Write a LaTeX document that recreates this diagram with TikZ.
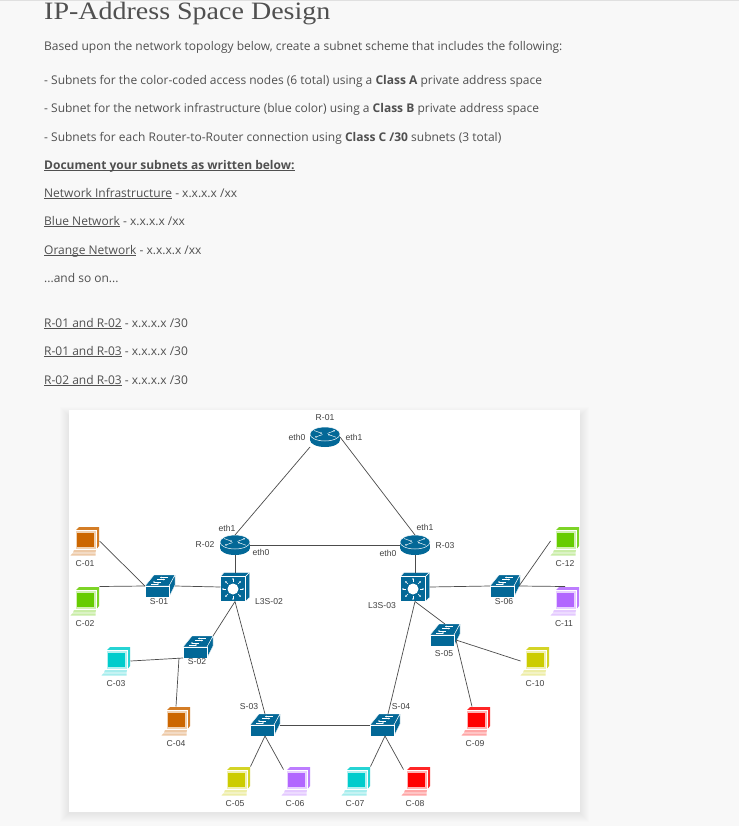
\documentclass[tikz,border=0pt]{standalone}
\usepackage{fontspec}
\setmainfont{Open Sans}
\newfontfamily\titlefont[FakeStretch=1.12]{Liberation Serif}
\newfontfamily\lblfont{Liberation Sans}
\usetikzlibrary{arrows.meta}
\definecolor{pagebg}{HTML}{F8F8F8}
\definecolor{txt}{HTML}{505050}
\definecolor{net}{HTML}{036897}
\definecolor{cOrange}{HTML}{CC6600}
\definecolor{cGreen}{HTML}{66CC00}
\definecolor{cCyan}{HTML}{00CCCC}
\definecolor{cYellow}{HTML}{CCCC00}
\definecolor{cPurple}{HTML}{B266FF}
\definecolor{cRed}{HTML}{FF0000}
\newcommand\ulx[1]{\leavevmode\setbox0\hbox{#1}\rlap{\raisebox{-1.6pt}{\rule{\wd0}{0.65pt}}}\box0\relax}
\tikzset{
  x=1pt,y=-1pt,
  body/.style={anchor=base west,inner sep=0pt,text=txt,font=\fontsize{12}{14}\selectfont},
  lbl/.style={inner sep=0pt,text=black!75,font=\lblfont\fontsize{8.6}{9}\selectfont},
  link/.style={draw=black!70,line width=0.7pt},
  routerbox/.style={inner sep=0pt,outer sep=0pt,minimum width=30pt,minimum height=20pt},
  switchbox/.style={inner sep=0pt,outer sep=0pt,minimum width=30pt,minimum height=22pt},
  lthreebox/.style={inner sep=0pt,outer sep=0pt,minimum width=29pt,minimum height=29pt},
  pcbox/.style={inner sep=0pt,outer sep=0pt,minimum width=29pt,minimum height=29pt},
  wa/.style={draw=white,line width=0.45pt,-{Stealth[length=1.6pt,width=1.8pt]}},
  pics/routericon/.style={code={
    \fill[net] (0,3) ellipse[x radius=15,y radius=7];
    \fill[net] (-15,-3) rectangle (15,3);
    \fill[net,draw=white,line width=0.5pt] (0,-3) ellipse[x radius=15,y radius=7];
    \draw[wa] (-11,-6.5) -- (-3,-3.6);
    \draw[wa] (-2.5,-2.4) -- (-10,0.2);
    \draw[wa] (11,0.2) -- (3,-2.6);
    \draw[wa] (2.5,-3.6) -- (10,-6.5);
  }},
  pics/switchicon/.style={code={
    \fill[net,draw=white,line width=0.4pt] (-15,0) -- (-6,-11) -- (15,-11) -- (9,0) -- cycle;
    \fill[net,draw=white,line width=0.4pt] (9,0) -- (15,-11) -- (15,-1) -- (9,11) -- cycle;
    \fill[net,draw=white,line width=0.4pt] (-15,0) rectangle (9,11);
    \draw[wa] (-9,-2) -- (-1,-2);
    \draw[wa] (1,-4) -- (-7,-4);
    \draw[wa] (-3,-6.5) -- (5,-6.5);
    \draw[wa] (8,-8.5) -- (0,-8.5);
  }},
  pics/lthreeicon/.style={code={
    \fill[net,draw=white,line width=0.4pt] (-14.5,-10.5) -- (-11,-14.5) -- (14.5,-14.5) -- (10.5,-10.5) -- cycle;
    \fill[net,draw=white,line width=0.4pt] (10.5,-10.5) -- (14.5,-14.5) -- (14.5,10.5) -- (10.5,14.5) -- cycle;
    \fill[net,draw=white,line width=0.4pt] (-14.5,-10.5) rectangle (10.5,14.5);
    \fill[white] (-2,2) circle[radius=5.5];
    \foreach \a in {0,45,...,315}{
      \draw[wa] ({-2+7*cos(\a)},{2+7*sin(\a)}) -- ({-2+11*cos(\a)},{2+11*sin(\a)});
    }
  }},
  pics/pcicon/.style={code={
    \fill[#1!85!white] (-10,-10) -- (-6,-14) -- (14,-14) -- (14,5) -- (11.5,8) -- (-10,8) -- cycle;
    \fill[#1!30!white,draw=white,line width=0.5pt] (-10,-10.5) rectangle (11.5,8);
    \fill[#1] (-8,-8.5) rectangle (9,6);
    \fill[#1!35!white] (-11,9) -- (11,9) -- (10.5,11.5) -- (-12,11.5) -- cycle;
    \fill[#1!35!white] (-12.5,12.3) -- (10.5,12.3) -- (10.5,14.5) -- (-14.5,14.5) -- cycle;
  }},
}
\begin{document}
\begin{tikzpicture}
\useasboundingbox (0,0) rectangle (739,826);
\fill[pagebg] (0,0) rectangle (739,826);
\fill[black!12] (0,0) rectangle (739,1.5);
% text
\node[anchor=base west,inner sep=0pt,text=txt,font=\titlefont\fontsize{25}{28}\selectfont] (title) at (44,20) {IP-Address Space Design};
\node[body] (t1) at (44,50.5) {Based upon the network topology below, create a subnet scheme that includes the following:};
\node[body] (t2) at (44,84.5) {- Subnets for the color-coded access nodes (6 total) using a \textbf{Class A} private address space};
\node[body] (t3) at (44,112.5) {- Subnet for the network infrastructure (blue color) using a \textbf{Class B} private address space};
\node[body] (t4) at (44,141.5) {- Subnets for each Router-to-Router connection using \textbf{Class C /30} subnets (3 total)};
\node[body] (t5) at (44,169.5) {\ulx{\textbf{Document your subnets as written below:}}};
\node[body] (t6) at (44,197.5) {\ulx{Network Infrastructure} - x.x.x.x /xx};
\node[body] (t7) at (44,225.5) {\ulx{Blue Network} - x.x.x.x /xx};
\node[body] (t8) at (44,254.5) {\ulx{Orange Network} - x.x.x.x /xx};
\node[body] (t9) at (44,282.5) {...and so on...};
\node[body] (t10) at (44,327.5) {\ulx{R-01 and R-02} - x.x.x.x /30};
\node[body] (t11) at (44,355.5) {\ulx{R-01 and R-03} - x.x.x.x /30};
\node[body] (t12) at (44,384.5) {\ulx{R-02 and R-03} - x.x.x.x /30};
% panel with soft shadow
\foreach \s in {9,8,...,1}{
  \fill[black,opacity=0.009] (69-\s,410+6-\s) rectangle (580+\s,812+\s+1);
}
\fill[white] (69,410) rectangle (580,812);
% device nodes
\node[routerbox] (r1) at (325,437) {}; \pic at (r1) {routericon};
\node[routerbox] (r2) at (235,545) {}; \pic at (r2) {routericon};
\node[routerbox] (r3) at (415,545) {}; \pic at (r3) {routericon};
\node[lthreebox] (l2) at (235,587) {}; \pic at (l2) {lthreeicon};
\node[lthreebox] (l3) at (415,587) {}; \pic at (l3) {lthreeicon};
\node[switchbox] (s1) at (160,586) {}; \pic at (s1) {switchicon};
\node[switchbox] (s2) at (198,647) {}; \pic at (s2) {switchicon};
\node[switchbox] (s3) at (265,725) {}; \pic at (s3) {switchicon};
\node[switchbox] (s4) at (385,725) {}; \pic at (s4) {switchicon};
\node[switchbox] (s5) at (445,635) {}; \pic at (s5) {switchicon};
\node[switchbox] (s6) at (505,586) {}; \pic at (s6) {switchicon};
\node[pcbox] (c1) at (85,541) {}; \pic at (c1) {pcicon=cOrange};
\node[pcbox] (c2) at (85,601) {}; \pic at (c2) {pcicon=cGreen};
\node[pcbox] (c3) at (116,661) {}; \pic at (c3) {pcicon=cCyan};
\node[pcbox] (c4) at (176,721) {}; \pic at (c4) {pcicon=cOrange};
\node[pcbox] (c5) at (236,781) {}; \pic at (c5) {pcicon=cYellow};
\node[pcbox] (c6) at (296,781) {}; \pic at (c6) {pcicon=cPurple};
\node[pcbox] (c7) at (356,781) {}; \pic at (c7) {pcicon=cCyan};
\node[pcbox] (c8) at (416,781) {}; \pic at (c8) {pcicon=cRed};
\node[pcbox] (c9) at (476,721) {}; \pic at (c9) {pcicon=cRed};
\node[pcbox] (c10) at (535,661) {}; \pic at (c10) {pcicon=cYellow};
\node[pcbox] (c11) at (565,601) {}; \pic at (c11) {pcicon=cPurple};
\node[pcbox] (c12) at (565,541) {}; \pic at (c12) {pcicon=cGreen};
% connectors
\draw[link] (r1.south west) -- (r2.north);
\draw[link] (r1.east) -- (r3.north);
\draw[link] (r2.east) -- (r3.west);
\draw[link] (r2.south) -- (l2.north);
\draw[link] (r3.south) -- (l3.north);
\draw[link] (l2.west) -- (s1.east);
\draw[link] (c1.east) -- (s1.west);
\draw[link] (c2.north east) -- (s1.west);
\draw[link] (l2.south) -- (s2.north east);
\draw[link] (c3.east) -- (s2.south west);
\draw[link] ([xshift=-4pt]s2.south west) -- (c4.north);
\draw[link] (l2.south) -- (s3.north);
\draw[link] (s3.east) -- (s4.west);
\draw[link] (s3.south) -- (c5.north east);
\draw[link] (s3.south) -- ([xshift=2pt,yshift=-3pt]c6.north west);
\draw[link] (s4.south) -- (c7.north east);
\draw[link] (s4.south) -- ([xshift=2pt,yshift=-3pt]c8.north west);
\draw[link] (l3.south) -- ([xshift=3pt]s4.north);
\draw[link] (l3.south) -- (s5.north);
\draw[link] (l3.east) -- (s6.west);
\draw[link] ([xshift=-4pt,yshift=-5pt]s5.east) -- (c10.west);
\draw[link] ([xshift=-4pt,yshift=-5pt]s5.east) -- ([xshift=-4pt]c9.north);
\draw[link] ([xshift=-1pt]s6.east) -- (c12.west);
\draw[link] ([xshift=-1pt]s6.east) -- (c11.north);
% labels
\node[lbl] (lr1) at (325,418) {R-01};
\node[lbl] (lr1a) at (297,437) {eth0};
\node[lbl] (lr1b) at (354,437) {eth1};
\node[lbl] (lr2) at (205,545) {R-02};
\node[lbl] (lr2a) at (227,528) {eth1};
\node[lbl] (lr2b) at (261,552) {eth0};
\node[lbl] (lr3) at (445,546) {R-03};
\node[lbl] (lr3a) at (425,527) {eth1};
\node[lbl] (lr3b) at (388,553) {eth0};
\node[lbl] (ll2) at (269,602) {L3S-02};
\node[lbl] (ll3) at (382,606) {L3S-03};
\node[lbl] (ls1) at (159,602) {S-01};
\node[lbl] (ls2) at (197,662) {S-02};
\node[lbl] (ls3) at (249,707) {S-03};
\node[lbl] (ls4) at (401,707) {S-04};
\node[lbl] (ls5) at (444,654) {S-05};
\node[lbl] (ls6) at (504,602) {S-06};
\node[lbl] (lc1) at (85,564) {C-01};
\node[lbl] (lc2) at (85,624) {C-02};
\node[lbl] (lc3) at (116,684) {C-03};
\node[lbl] (lc4) at (176,744) {C-04};
\node[lbl] (lc5) at (235,804) {C-05};
\node[lbl] (lc6) at (295,804) {C-06};
\node[lbl] (lc7) at (355,804) {C-07};
\node[lbl] (lc8) at (415,804) {C-08};
\node[lbl] (lc9) at (475,744) {C-09};
\node[lbl] (lc10) at (535,684) {C-10};
\node[lbl] (lc11) at (564,624) {C-11};
\node[lbl] (lc12) at (565,564) {C-12};
\end{tikzpicture}
\end{document}
